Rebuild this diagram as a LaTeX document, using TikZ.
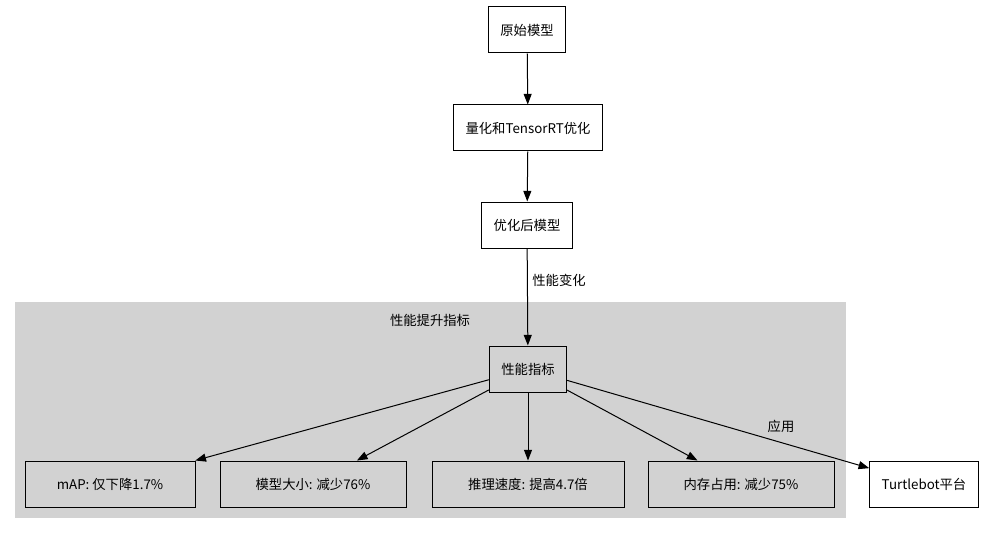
\documentclass[tikz,border=0pt]{standalone}
\usepackage{fontspec}
\setmainfont{Noto Sans CJK SC}
\usetikzlibrary{arrows.meta}
\tikzset{every picture/.style={line width=0.75pt}}
\tikzset{
  box/.style={draw, fill=white, minimum height=34.5pt, inner xsep=9pt, font=\fontsize{10}{12}\selectfont},
  gbox/.style={box, fill=gray!35},
  edge/.style={-{Triangle[length=8pt,width=6pt]}},
  lbl/.style={font=\fontsize{10}{12}\selectfont}
}
\begin{document}
\begin{tikzpicture}[x=0.75pt,y=0.75pt,yscale=-1]
	\useasboundingbox (0,0) rectangle (997,535);
	% cluster
	\fill [gray!35] (15,302) rectangle (846,518);
	\node [lbl] (cl) at (430,320) {性能提升指标};

	% nodes
	\node [box] (orig) at (527,30) {原始模型};
	\node [box] (quant) at (528,128) {量化和TensorRT优化};
	\node [box] (opt) at (527,225) {优化后模型};
	\node [gbox] (perf) at (528,369) {性能指标};
	\node [gbox, minimum width=127.5pt] (map) at (110,484) {mAP: 仅下降1.7\%};
	\node [gbox, minimum width=139.5pt] (size) at (313,484) {模型大小: 减少76\%};
	\node [gbox, minimum width=144pt] (speed) at (528,484) {推理速度: 提高4.7倍};
	\node [gbox, minimum width=139.5pt] (mem) at (741,484) {内存占用: 减少75\%};
	\node [box] (bot) at (924,484) {Turtlebot平台};

	% edges
	\draw [edge] (orig) -- (quant);
	\draw [edge] (quant) -- (opt);
	\draw [edge] (opt) -- node [lbl, right, pos=0.33] {性能变化} (perf);
	\draw [edge] (perf) -- (map);
	\draw [edge] (perf) -- (size);
	\draw [edge] (perf) -- (speed);
	\draw [edge] (perf) -- (mem);
	\draw [edge] (perf) -- (bot);
	\node [lbl] (use) at (781,426) {应用};
\end{tikzpicture}
\end{document}
